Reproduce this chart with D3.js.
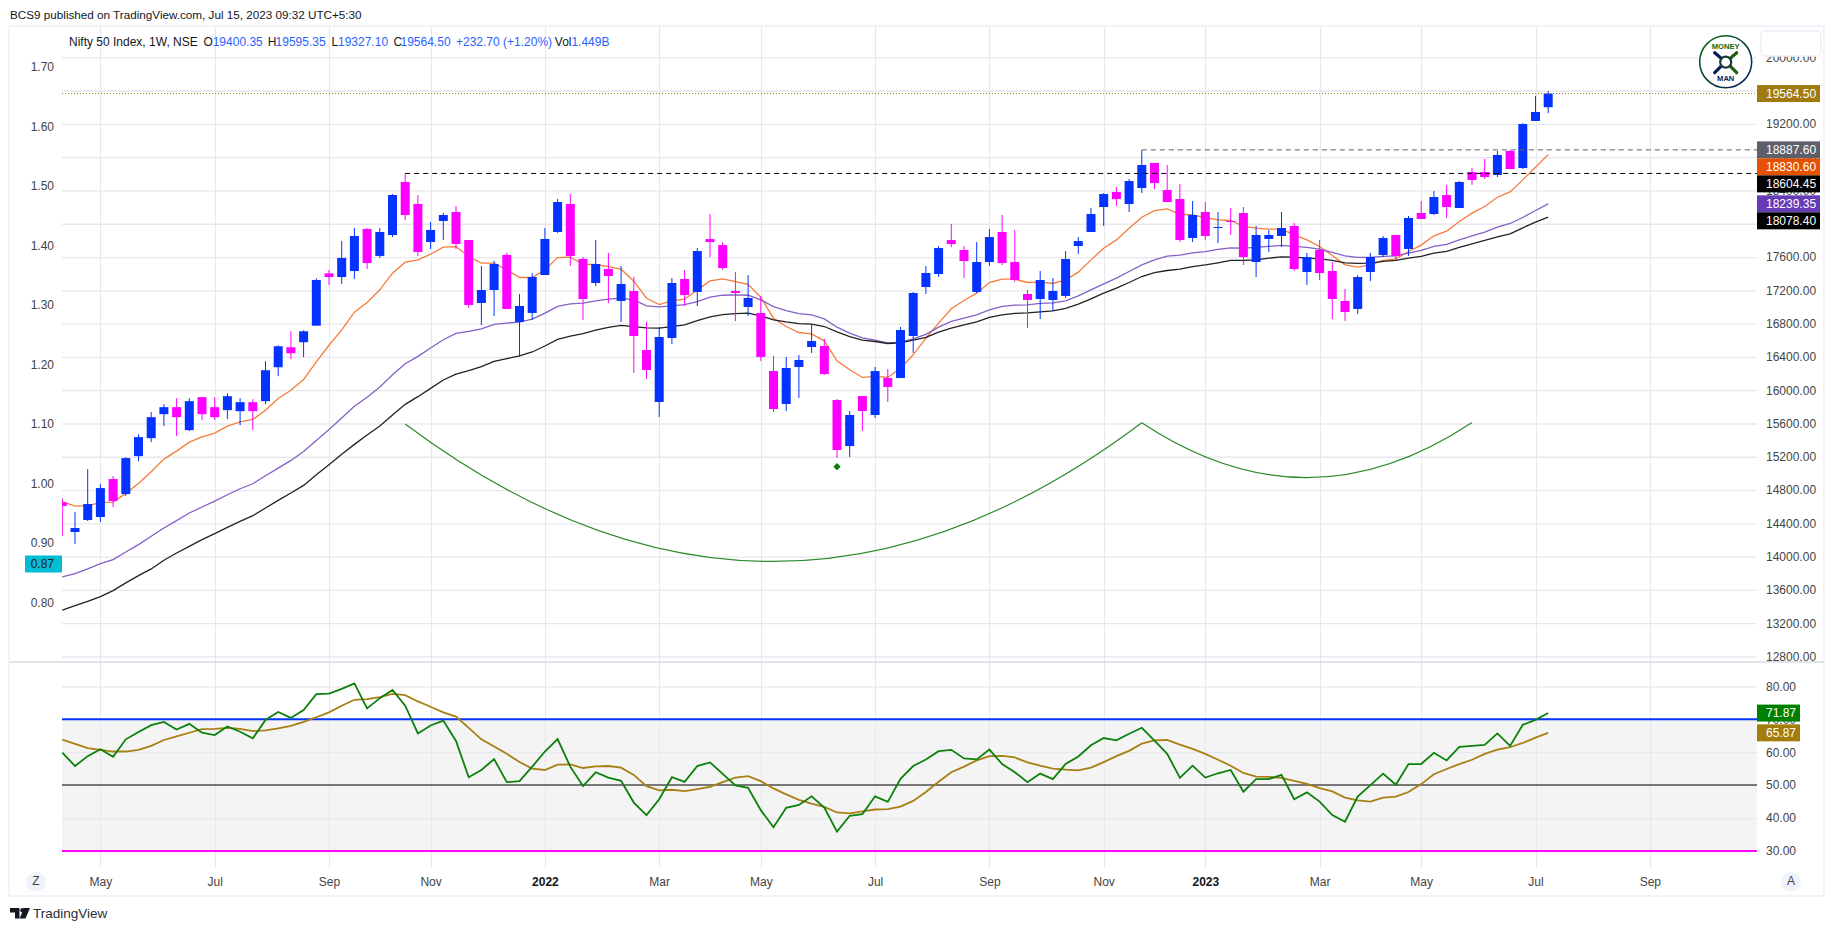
<!DOCTYPE html>
<html><head><meta charset="utf-8">
<script src="https://d3js.org/d3.v7.min.js"></script>
<style>html,body{margin:0;padding:0;background:#fff}svg{display:block}text{font-family:"Liberation Sans",Arial,sans-serif}</style>
</head><body><svg id="c" width="1835" height="931"></svg>
<script>
const opens=[14652,14296,14440,14476,14932,14752,15208,15424,15712,15796,15520,15916,15796,15760,15748,15856,15868,16276,16516,16576,16775,17404,17360,17432,17937,17613,17865,18502,18237,17781,18033,18141,17805,17048,17204,17625,16820,16928,17384,17901,18237,17577,17288,17456,17072,17192,16483,15858,16627,17336,17180,17816,17744,17192,17000,16927,16230,15834,16279,16519,16531,15882,15329,15930,15702,16146,16146,16651,17240,17396,17804,17684,17180,17540,17901,17540,17156,17096,17084,17132,17732,17901,18201,18381,18237,18429,18730,18405,18297,17829,18141,17953,18033,18129,17540,17817,17853,17973,17420,17685,17432,17072,16976,17420,17625,17865,17697,18129,18117,18345,18189,18622,18622,18586,18874,18670,19235,19400.35];
const highs=[14700,14536,15052,14872,14968,15196,15472,15736,15832,15904,15904,15916,15916,15964,15904,15892,16348,16540,16708,16720,17344,17444,17793,17949,17949,17949,18357,18604,18345,18021,18129,18213,17805,17492,17553,17649,17156,17408,17949,18297,18357,17601,17805,17649,17492,17360,16819,16759,17348,17444,17708,18117,17780,17420,17384,17132,16411,16399,16423,16795,16615,15894,15750,15930,16279,16255,16759,17180,17492,17732,17997,17732,17780,17937,18105,17925,17204,17432,17348,17672,17840,18189,18369,18441,18537,18888,18730,18706,18477,18273,18261,18141,18189,18201,17973,17925,18141,18009,17649,17805,17540,17216,17384,17649,17853,17865,18093,18273,18394,18466,18514,18670,18778,18874,18886,19210,19535,19595.35];
const lows=[14248,14152,14428,14416,14596,14728,15148,15376,15568,15448,15508,15640,15640,15652,15580,15520,15832,16168,16372,16396,16775,17264,17276,17336,17456,17589,17841,18045,17613,17697,17805,17697,16988,16784,16892,16976,16403,16844,17384,17889,17492,16844,17252,17048,16820,16207,16134,15678,16555,17011,17011,17600,17444,16831,16891,16351,15738,15750,15906,16447,16182,15185,15197,15510,15666,15858,16146,16447,17156,17360,17720,17348,17168,17492,17504,17300,16747,16855,16951,17108,17636,17901,17973,18213,18141,18369,18417,18261,17780,17780,17804,17769,17865,17504,17360,17661,17721,17432,17264,17324,16855,16832,16916,17312,17600,17564,17613,18057,18105,18069,18189,18466,18538,18562,18658,18658,19235,19327.10];
const closes=[14608,14344,14632,14824,14668,15184,15436,15676,15796,15676,15868,15712,15676,15928,15856,15748,16240,16528,16444,16708,17324,17360,17589,17853,17528,17901,18345,18105,17661,17925,18105,17757,17024,17204,17516,16976,17012,17360,17817,18261,17613,17096,17516,17372,17276,16651,16242,16639,17288,17144,17672,17780,17468,17168,17108,16399,15774,16267,16363,16591,16194,15281,15702,15750,16230,16038,16723,17168,17408,17708,17756,17552,17540,17840,17528,17324,17084,17324,17192,17576,17792,18117,18357,18297,18513,18706,18489,18261,17805,18105,17853,17961,18021,17600,17865,17865,17949,17456,17600,17408,17096,16940,17360,17600,17829,17613,18069,18057,18321,18201,18502,18526,18562,18826,18658,19198,19343,19564.50];
const maFast=[14660,14608,14612,14648,14656,14760,14880,15020,15172,15268,15376,15440,15484,15568,15620,15648,15760,15900,16000,16128,16340,16540,16725,16938,17054,17206,17406,17538,17566,17634,17718,17726,17606,17526,17526,17446,17354,17354,17446,17594,17598,17514,17510,17486,17454,17310,17105,17029,17073,17093,17205,17313,17337,17305,17273,17117,16865,16765,16693,16677,16593,16353,16245,16153,16165,16153,16265,16425,16625,16806,16978,17078,17166,17294,17334,17334,17294,17298,17282,17326,17418,17566,17706,17806,17946,18078,18158,18178,18114,18106,18074,18047,18039,17967,17947,17935,17935,17867,17807,17727,17619,17507,17479,17507,17559,17579,17667,17743,17855,17911,18027,18127,18207,18319,18383,18527,18679,18830.6];
const maMid=[13756,13796,13852,13916,13964,14056,14144,14244,14344,14432,14524,14596,14668,14744,14816,14876,14972,15064,15156,15264,15396,15528,15666,15806,15914,16038,16186,16318,16406,16506,16606,16682,16706,16738,16790,16806,16818,16854,16926,17006,17038,17046,17074,17094,17106,17086,17013,17001,17013,17029,17065,17117,17141,17145,17141,17085,17005,16957,16921,16905,16857,16757,16685,16629,16601,16569,16577,16617,16670,16758,16826,16866,16906,16966,17006,17022,17026,17042,17050,17074,17134,17206,17278,17346,17426,17506,17566,17610,17622,17650,17666,17691,17711,17707,17715,17727,17739,17727,17715,17695,17655,17615,17595,17595,17607,17615,17647,17679,17727,17751,17807,17855,17899,17959,18003,18075,18159,18239.35];
const maSlow=[13358,13410,13463,13519,13591,13684,13772,13852,13956,14044,14124,14204,14276,14352,14424,14492,14584,14676,14764,14856,14984,15104,15229,15349,15461,15570,15702,15830,15922,16022,16122,16194,16234,16282,16346,16379,16411,16459,16531,16611,16651,16679,16723,16755,16779,16765,16749,16745,16765,16785,16837,16881,16909,16921,16925,16893,16845,16821,16801,16793,16765,16701,16645,16601,16585,16561,16569,16601,16635,16698,16746,16786,16822,16874,16906,16922,16930,16942,16954,16982,17034,17098,17166,17226,17294,17366,17414,17438,17454,17486,17506,17531,17559,17559,17567,17587,17603,17599,17587,17579,17559,17531,17523,17527,17547,17559,17587,17607,17647,17667,17715,17759,17799,17843,17879,17951,18019,18078.40];
const rsi=[59.9,55.8,58.8,60.9,58.6,63.9,66.1,68.2,69.2,66.9,68.6,65.9,65.2,67.8,66.2,64.2,69.8,72.2,70.4,72.8,77.6,77.8,79.2,80.9,73.3,76.4,78.9,74.1,65.7,68.1,69.6,63.4,52.4,54.6,57.9,50.9,51.2,55.6,60.2,64.0,55.6,49.7,53.9,52.3,51.3,44.7,40.9,45.7,52.4,51.0,55.8,56.9,53.4,49.9,49.2,42.4,37.2,43.1,44.0,46.6,43.2,35.9,40.7,41.2,46.6,44.9,51.9,55.8,57.8,60.3,60.7,58.1,57.8,60.8,56.4,53.9,50.9,53.5,51.8,56.4,58.7,62.1,64.3,63.6,65.6,67.4,63.5,59.5,52.2,55.9,52.3,53.6,54.6,48.0,51.8,51.8,53.1,45.7,47.8,45.0,40.9,38.9,46.5,50.0,53.5,50.1,56.4,56.4,59.8,57.5,61.6,61.9,62.2,65.7,61.9,68.3,69.8,71.87];
const rsiMa=[63.8,62.5,61.2,60.7,60.2,60.2,60.7,61.9,63.7,64.8,65.9,67.0,67.1,67.4,67.1,66.4,66.6,67.2,68.0,69.2,70.6,72.1,74.1,75.9,76.1,76.7,77.7,77.3,75.4,73.8,72.1,70.8,67.4,63.9,61.7,59.5,57.0,55.0,54.6,56.2,56.3,55.2,55.7,55.8,55.3,53.1,49.7,48.4,48.6,48.2,48.8,49.5,50.9,52.3,52.7,51.2,49.0,47.2,45.5,44.4,43.4,41.7,41.4,42.0,42.6,42.7,43.5,45.2,47.9,51.0,53.9,55.6,57.5,58.8,58.9,58.4,56.9,55.9,55.0,54.7,54.5,55.3,57.0,58.8,60.4,62.6,63.6,63.7,62.3,61.0,59.5,57.7,55.9,53.7,52.6,52.5,52.2,51.3,50.4,49.1,48.1,46.2,45.4,45.0,46.2,46.5,47.9,50.3,53.3,54.9,56.4,57.7,59.5,60.8,61.5,62.8,64.4,65.87];

const timeTickIdx=[3,12,21,29,38,47,55,64,73,82,90,99,107,116,125];
const timeTickLabels=["May","Jul","Sep","Nov","2022","Mar","May","Jul","Sep","Nov","2023","Mar","May","Jul","Sep"];
const priceTicks=d3.range(12800,20001,400);
const ratioTicks=[0.80,0.90,1.00,1.10,1.20,1.30,1.40,1.50,1.60,1.70];
const rsiTicks=[30,40,50,60,70,80];
const priceTags=[[19564.50,"#a07a0f"],[18887.60,"#5d606b"],[18830.60,"#e65100"],[18604.45,"#000000"],[18239.35,"#673ab7"],[18078.40,"#000000"]];
const rsiTags=[[71.87,"#008000"],[65.87,"#a37c0b"]];
const resistance=18604.45, recentHigh=18887.60, lastClose=19564.50;
const arcs=[{i0:27,p0:15594,ic:56,pc:12282,i1:85,p1:15609},{i0:85,p0:15609,ic:98,pc:14290,i1:111,p1:15612}];
const marker={i:61,p:15081};
const legendParts=[["Nifty 50 Index, 1W, NSE",69,"#131722"],["O",203.6,"#131722"],["19400.35",212.7,"#2962ff"],["H",267.7,"#131722"],["19595.35",275.6,"#2962ff"],["L",331.4,"#131722"],["19327.10",338,"#2962ff"],["C",393.4,"#131722"],["19564.50",400.5,"#2962ff"],["+232.70 (+1.20%)",456,"#2962ff"],["Vol",554.8,"#131722"],["1.449B",571.4,"#2962ff"]];

const L=62,R=1757,T=27,PB=662,B=867.7;
const svg=d3.select("#c");
const x=d3.scaleLinear().domain([0,117]).range([62.3,1548.2]);
const y=d3.scaleLinear().domain([12800,20000]).range([656.5,57.3]);
const yl=d3.scaleLinear().domain([0.80,1.70]).range([602.7,66.7]);
const yr=d3.scaleLinear().domain([30,80]).range([851,686.3]);
const defs=svg.append("defs");
defs.append("clipPath").attr("id","pc").append("rect").attr("x",L).attr("y",T).attr("width",R-L).attr("height",B-T);
const lg=defs.append("linearGradient").attr("id","lg").attr("x1",0).attr("x2",1).attr("y1",0).attr("y2",1);
lg.append("stop").attr("offset","0%").attr("stop-color","#0a6b0a");lg.append("stop").attr("offset","100%").attr("stop-color","#0a1a6b");

const gridCol="#e7e8ee";
svg.append("rect").attr("x",9).attr("y",26).attr("width",1815).attr("height",870).attr("fill","#fff").attr("stroke","#f0f3fa").attr("stroke-width",2);
svg.append("rect").attr("x",L).attr("y",yr(70)).attr("width",R-L).attr("height",yr(30)-yr(70)).attr("fill","#f4f4f4");
const timeAxis=d3.axisBottom(x).tickValues(timeTickIdx).tickSize(0).tickPadding(0).tickFormat((d,i)=>timeTickLabels[i]);
svg.append("g").selectAll("line").data(timeTickIdx).join("line").attr("x1",d=>Math.round(x(d))+.5).attr("x2",d=>Math.round(x(d))+.5).attr("y1",T).attr("y2",B).attr("stroke",gridCol).attr("stroke-width",1.1);
const gridP=svg.append("g").attr("transform",`translate(${L},0)`).call(d3.axisRight(y).tickValues(priceTicks).tickSize(R-L).tickFormat(""));
gridP.select(".domain").remove();gridP.selectAll("line").attr("stroke",gridCol).attr("stroke-width",1.3);
const gridR=svg.append("g").attr("transform",`translate(${L},0)`).call(d3.axisRight(yr).tickValues(rsiTicks).tickSize(R-L).tickFormat(""));
gridR.select(".domain").remove();gridR.selectAll("line").attr("stroke",gridCol).attr("stroke-width",1.3);
svg.append("line").attr("x1",9).attr("x2",1824).attr("y1",PB).attr("y2",PB).attr("stroke","#d8d9e2").attr("stroke-width",1.4);

const plot=svg.append("g").attr("clip-path","url(#pc)");
const idx=d3.range(opens.length);
const ln=(arr,sc)=>d3.line().x(i=>x(i)).y(i=>sc(arr[i]))(idx);
[[maFast,"#f57c3a",1.3],[maMid,"#8560c8",1.3],[maSlow,"#222222",1.3]].forEach(([a,c,w])=>plot.append("path").attr("d",ln(a,y)).attr("fill","none").attr("stroke",c).attr("stroke-width",w));
const col=i=>closes[i]>=opens[i]?"#0433ff":"#ff00ff";
plot.append("g").selectAll("line").data(idx).join("line").attr("x1",i=>x(i)).attr("x2",i=>x(i)).attr("y1",i=>y(highs[i])).attr("y2",i=>y(lows[i])).attr("stroke",col).attr("stroke-width",1);
plot.append("g").selectAll("rect").data(idx).join("rect").attr("x",i=>x(i)-4.5).attr("width",9).attr("y",i=>y(Math.max(opens[i],closes[i]))).attr("height",i=>Math.max(1,Math.abs(y(opens[i])-y(closes[i])))).attr("fill",col);
plot.append("line").attr("x1",L).attr("x2",R).attr("y1",y(lastClose)).attr("y2",y(lastClose)).attr("stroke","#a07a0f").attr("stroke-width",1).attr("stroke-dasharray","1 2");
plot.append("line").attr("x1",x(27)).attr("x2",R).attr("y1",y(resistance)).attr("y2",y(resistance)).attr("stroke","#000").attr("stroke-width",1).attr("stroke-dasharray","5 4");
plot.append("line").attr("x1",x(85)).attr("x2",R).attr("y1",y(recentHigh)).attr("y2",y(recentHigh)).attr("stroke","#5d606b").attr("stroke-width",1).attr("stroke-dasharray","5 4");
arcs.forEach(a=>{const p=d3.path();p.moveTo(x(a.i0),y(a.p0));p.quadraticCurveTo(x(a.ic),y(a.pc),x(a.i1),y(a.p1));
 plot.append("path").attr("d",p.toString()).attr("fill","none").attr("stroke","#2e8b2e").attr("stroke-width",1.2);});
plot.append("path").attr("d",d3.symbol(d3.symbolDiamond2,34)()).attr("transform",`translate(${x(marker.i)},${y(marker.p)})`).attr("fill","#0a7d0a");
[[70,"#0433ff"],[50,"#787878"],[30,"#ff00ff"]].forEach(([v,c])=>svg.append("line").attr("x1",L).attr("x2",R).attr("y1",yr(v)).attr("y2",yr(v)).attr("stroke",c).attr("stroke-width",2));
svg.append("path").attr("d",ln(rsiMa,yr)).attr("fill","none").attr("stroke","#a87f14").attr("stroke-width",1.8);
svg.append("path").attr("d",ln(rsi,yr)).attr("fill","none").attr("stroke","#0b800b").attr("stroke-width",1.8);

const style=(g,c="#444")=>{g.select(".domain").remove();g.selectAll("text").attr("fill",c).attr("font-size",12);g.selectAll(".tick line").remove();return g;};
const priceAxis=svg.append("g").attr("transform","translate(1766,0)").call(d3.axisRight(y).tickValues(priceTicks).tickSize(0).tickPadding(0).tickFormat(d=>d.toFixed(2)));style(priceAxis);
const rsiAxis=svg.append("g").attr("transform","translate(1766,0)").call(d3.axisRight(yr).tickValues(rsiTicks).tickSize(0).tickPadding(0).tickFormat(d=>d.toFixed(2)));style(rsiAxis);
const ratioAxis=svg.append("g").attr("transform","translate(54,0)").call(d3.axisLeft(yl).tickValues(ratioTicks).tickSize(0).tickPadding(0).tickFormat(d=>d.toFixed(2)));style(ratioAxis);
const tAx=svg.append("g").attr("transform","translate(0,877)").call(timeAxis);style(tAx);
tAx.selectAll(".tick text").attr("font-weight",(d,i)=>/^20/.test(timeTickLabels[i])?"bold":"normal").attr("fill",(d,i)=>/^20/.test(timeTickLabels[i])?"#131722":"#444");

function tags(list,sc,x0,w,h){let prev=-1e9;list.forEach(([v,c])=>{let cy=Math.max(sc(v),prev+h);prev=cy;
 svg.append("rect").attr("x",x0).attr("y",cy-h/2).attr("width",w).attr("height",h).attr("fill",c);
 svg.append("text").attr("x",1766).attr("y",cy).attr("dy","0.35em").attr("font-size",12).attr("fill","#fff").text(v.toFixed(2));});}
tags(priceTags,y,1757,63,17);
tags(rsiTags,yr,1757,43,17);
svg.append("rect").attr("x",25).attr("y",yl(0.865)-8.5).attr("width",37).attr("height",17).attr("fill","#00bcd4");
svg.append("text").attr("x",54).attr("y",yl(0.865)).attr("dy","0.35em").attr("text-anchor","end").attr("font-size",12).attr("fill","#222").text("0.87");

svg.append("rect").attr("x",1761).attr("y",31).attr("width",60).attr("height",25).attr("rx",4).attr("fill","#fff").attr("stroke","#eff0f5").attr("stroke-width",1.5);
const lgG=svg.append("g").attr("transform","translate(1725.7,61.7)");
lgG.append("circle").attr("r",26).attr("fill","#fff").attr("stroke","url(#lg)").attr("stroke-width",1.6);
[[-11,-9,-4,-3,"#0a1a5a"],[-11,11,-4,4,"#0a1a5a"],[11,-9,4,-3,"#1f5f10"],[11,11,4,4,"#1f5f10"]].forEach(([a,b,c,d,s])=>lgG.append("line").attr("x1",a).attr("y1",b).attr("x2",c).attr("y2",d).attr("stroke",s).attr("stroke-width",3.2).attr("stroke-linecap","round"));
lgG.append("circle").attr("r",5.5).attr("cy",0.5).attr("fill","#fff").attr("stroke","#1c3a3a").attr("stroke-width",2.2);
lgG.append("text").attr("y",-15.5).attr("dy","0.35em").attr("text-anchor","middle").attr("font-size",7.6).attr("font-weight","bold").attr("fill","#0a6b0a").text("MONEY");
lgG.append("text").attr("y",16.5).attr("dy","0.35em").attr("text-anchor","middle").attr("font-size",7.6).attr("font-weight","bold").attr("fill","#0a1a5a").text("MAN");

svg.append("text").attr("x",10).attr("y",14.7).attr("dy","0.35em").attr("font-size",11.7).attr("fill","#131722").text("BCS9 published on TradingView.com, Jul 15, 2023 09:32 UTC+5:30");
svg.append("g").selectAll("text").data(legendParts).join("text").attr("x",d=>d[1]).attr("y",41.7).attr("dy","0.35em").attr("font-size",12).attr("fill",d=>d[2]).text(d=>d[0]);

[[36,"Z"],[1791,"A"]].forEach(([cx,t])=>{svg.append("circle").attr("cx",cx).attr("cy",881.7).attr("r",10).attr("fill","#f0f3fa");
 svg.append("text").attr("x",cx).attr("y",880.7).attr("dy","0.35em").attr("text-anchor","middle").attr("font-size",12).attr("fill","#444").text(t);});
const f=svg.append("g").attr("fill","#131722");
f.append("path").attr("d","M10 908H19.5V918.5H15V912.5H10Z");
f.append("circle").attr("cx",22.5).attr("cy",910.2).attr("r",2.2);
f.append("path").attr("d","M19.5 918.5L24 908H30L25.5 918.5Z");
svg.append("text").attr("x",33).attr("y",913.7).attr("dy","0.35em").attr("font-size",13.5).attr("fill","#2a2e39").text("TradingView");
</script></body></html>
